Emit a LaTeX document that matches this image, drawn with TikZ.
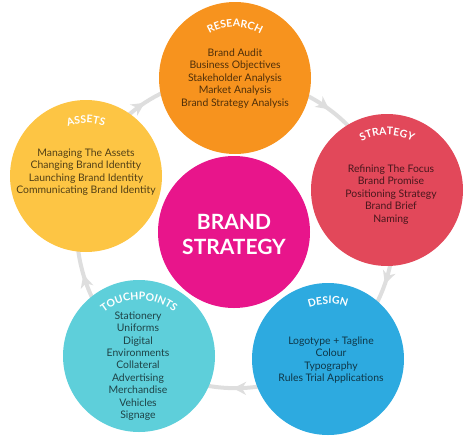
\documentclass[tikz,border=0pt]{standalone}
\usepackage{fontspec}
\setmainfont{Lato}
\usetikzlibrary{arrows.meta,decorations.markings,decorations.text,backgrounds}
\definecolor{cRes}{HTML}{F7931E}
\definecolor{cStr}{HTML}{E2485A}
\definecolor{cDes}{HTML}{2DAAE0}
\definecolor{cTou}{HTML}{5ECFDA}
\definecolor{cAss}{HTML}{FDC544}
\definecolor{cMag}{HTML}{E8158B}
\definecolor{ringgrey}{HTML}{DEDEDE}
\newcommand{\ttlfont}{\fontsize{10.5}{12}\selectfont\bfseries\color{white}}
\begin{document}
\begin{tikzpicture}[x=1pt,y=1pt,
  bubble/.style={circle, minimum size=152pt, inner sep=0pt, draw=none},
  body/.style={align=center, font=\fontsize{10.4}{12.4}\selectfont, text=black, text opacity=0.68, inner sep=0pt},
  ringlink/.style={draw=ringgrey, line width=4pt, bend left=36, looseness=0.94,
    postaction={decorate},
    decoration={markings, mark=at position 0.5 with {\arrow[ringgrey]{Stealth[length=13pt,width=13pt,inset=4pt]}}}},
  ttl/.style={decorate, decoration={text along path, text align=center, text={#1}}}
]
\useasboundingbox (0,0) rectangle (474,-437);
\node[bubble, fill=cRes] (research) at (235,-78) {};
\node[bubble, fill=cStr] (strategy) at (387,-190) {};
\node[bubble, fill=cDes] (design) at (328,-359) {};
\node[bubble, fill=cTou] (touch) at (139,-356) {};
\node[bubble, fill=cAss] (assets) at (86,-176) {};
\node[bubble, fill=cMag] (brand) at (234,-232) {};

\begin{scope}[on background layer]
\draw[ringlink] (research.center) to (strategy.center);
\draw[ringlink] (strategy.center) to (design.center);
\draw[ringlink] (design.center) to (touch.center);
\draw[ringlink] (touch.center) to (assets.center);
\draw[ringlink] (assets.center) to (research.center);
\end{scope}

\path[ttl={|\ttlfont|RESEARCH}] ([shift={(130:51)}]research.center) arc[start angle=130, end angle=50, radius=51];
\path[ttl={|\ttlfont|STRATEGY}] ([shift={(130:55)}]strategy.center) arc[start angle=130, end angle=50, radius=55];
\path[ttl={|\ttlfont|DESIGN}] ([shift={(130:55)}]design.center) arc[start angle=130, end angle=50, radius=55];
\path[ttl={|\ttlfont|TOUCHPOINTS}] ([shift={(145:56)}]touch.center) arc[start angle=145, end angle=35, radius=56];
\path[ttl={|\ttlfont|ASSETS}] ([shift={(130:53)}]assets.center) arc[start angle=130, end angle=50, radius=53];

\node[body] (tres) at (235,-78.5) {Brand Audit\\Business Objectives\\Stakeholder Analysis\\Market Analysis\\Brand Strategy Analysis};
\node[body] (tstr) at (391,-194.5) {Refining The Focus\\Brand Promise\\Positioning Strategy\\Brand Brief\\Naming};
\node[body] (tdes) at (331,-360) {Logotype + Tagline\\Colour\\Typography\\Rules Trial Applications};
\node[body] (ttou) at (138,-366) {Stationery\\Uniforms\\Digital\\Environments\\Collateral\\Advertising\\Merchandise\\Vehicles\\Signage};
\node[body] (tass) at (86,-172) {Managing The Assets\\Changing Brand Identity\\Launching Brand Identity\\Communicating Brand Identity};
\node[align=center, text=white, inner sep=0pt, font=\fontsize{21}{25}\selectfont\bfseries] (tbrand) at (234,-234) {BRAND\\STRATEGY};
\end{tikzpicture}
\end{document}
